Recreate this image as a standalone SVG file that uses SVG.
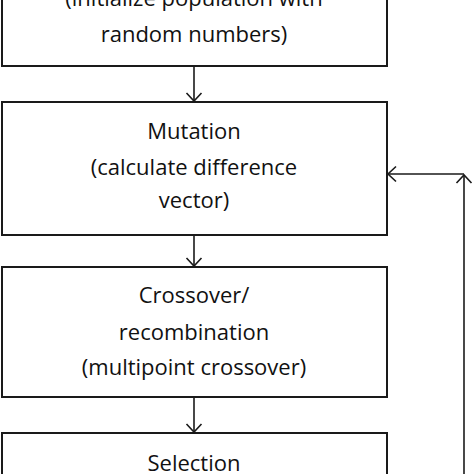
<svg xmlns="http://www.w3.org/2000/svg" width="474" height="474" viewBox="0 0 474 474">
<style>
.box{fill:#fff;stroke:#1a1a1a;stroke-width:2}
.lbl{font-family:"Open Sans","Noto Sans",sans-serif;font-size:22px;fill:#111;text-anchor:middle}
.con{fill:none;stroke:#1a1a1a;stroke-width:1.6}
</style>
<defs>
<marker id="ah" markerUnits="userSpaceOnUse" markerWidth="20" markerHeight="20" viewBox="-10 -10 20 20" refX="0" refY="0" orient="auto">
<path d="M-8,-7.5 L0,0 L-8,7.5" fill="none" stroke="#1a1a1a" stroke-width="1.6"/>
</marker>
</defs>
<rect width="474" height="474" fill="#fff"/>
<g id="init">
<rect class="box" x="2" y="-40" width="385" height="106"/>
<text class="lbl" x="194" y="6">(initialize population with</text>
<text class="lbl" x="194" y="42">random numbers)</text>
</g>
<g id="mutation">
<rect class="box" x="2" y="102" width="385" height="133"/>
<text class="lbl" x="194" y="139">Mutation</text>
<text class="lbl" x="194" y="175">(calculate difference</text>
<text class="lbl" x="194" y="208">vector)</text>
</g>
<g id="crossover">
<rect class="box" x="2" y="267" width="385" height="130"/>
<text class="lbl" x="194" y="303">Crossover/</text>
<text class="lbl" x="194" y="340">recombination</text>
<text class="lbl" x="194" y="375">(multipoint crossover)</text>
</g>
<g id="selection">
<rect class="box" x="2" y="433" width="385" height="80"/>
<text class="lbl" x="194" y="471">Selection</text>
</g>
<g id="connectors">
<line class="con" x1="194" y1="66" x2="194" y2="101" marker-end="url(#ah)"/>
<line class="con" x1="194" y1="235" x2="194" y2="266" marker-end="url(#ah)"/>
<line class="con" x1="194" y1="397" x2="194" y2="432" marker-end="url(#ah)"/>
<line class="con" x1="464" y1="480" x2="464" y2="175" marker-end="url(#ah)"/>
<line class="con" x1="464" y1="174" x2="388" y2="174" marker-end="url(#ah)"/>
</g>
</svg>
